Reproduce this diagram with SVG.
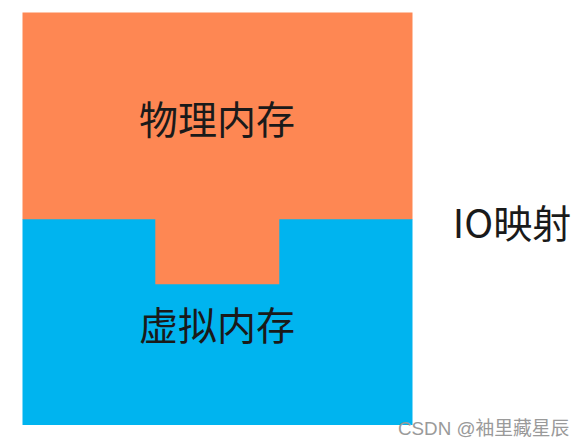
<svg xmlns="http://www.w3.org/2000/svg" width="585" height="447" viewBox="0 0 585 447">
<style>
.lbl{font-family:"Noto Sans CJK SC","Noto Sans",sans-serif;font-size:39px;fill:#1a1a1a}
.wm{font-family:"Liberation Sans","Noto Sans CJK SC",sans-serif;font-size:18.8px;fill:#9a9a9a}
</style>
<rect width="585" height="447" fill="#ffffff"/>
<g id="virtual">
<rect x="22.5" y="219" width="390" height="206" fill="#00B4EF"/>
</g>
<g id="physical">
<path d="M22.5 12.5 H412.5 V219.3 H279.3 V284.3 H155.3 V219.3 H22.5 Z" fill="#FE8753"/>
</g>
<g id="labels">
<text class="lbl" x="217" y="134" text-anchor="middle">物理内存</text>
<text class="lbl" x="217" y="340" text-anchor="middle">虚拟内存</text>
<text class="lbl" x="512" y="238" text-anchor="middle">IO映射</text>
</g>
<g id="connectors"></g>
<text class="wm" x="398" y="435">CSDN @袖里藏星辰</text>
</svg>
